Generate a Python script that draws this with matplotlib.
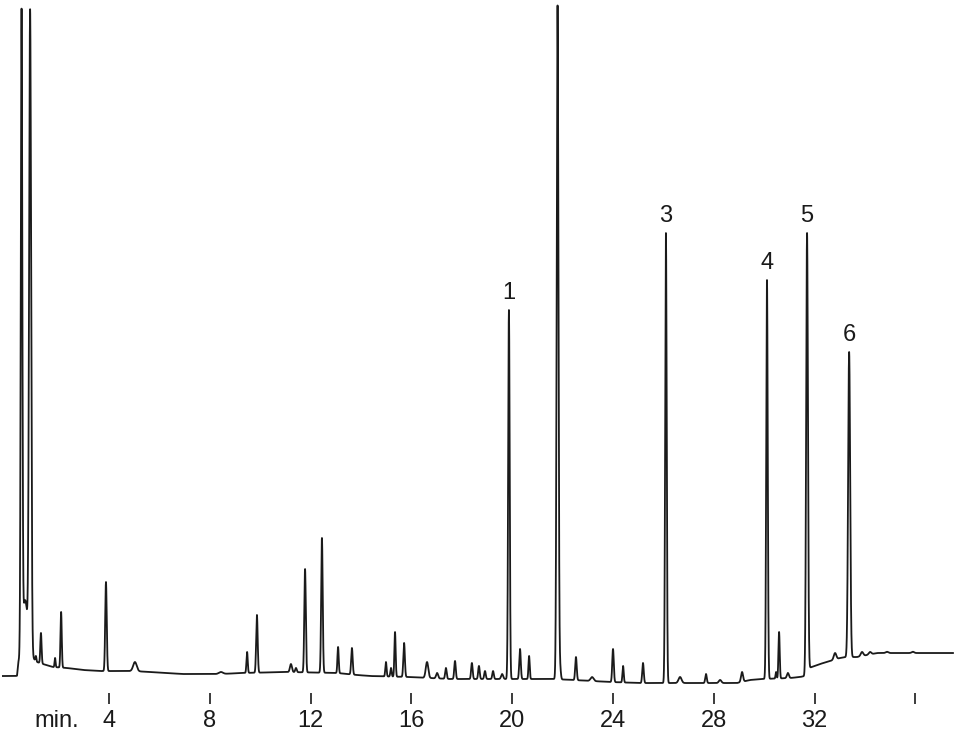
import numpy as np
import matplotlib

matplotlib.use('Agg')
import matplotlib.pyplot as plt

plt.rcParams['font.family'] = ['Liberation Sans Narrow', 'Liberation Sans', 'DejaVu Sans']

# Baseline drift of the detector signal (time in min, signal in arbitrary units)
base_t = [-0.21, 0.35, 0.41, 0.94, 1.14, 1.38, 1.78, 2.33, 2.97, 3.64, 4.95,
          6.30, 6.90, 8.40, 9.32, 11.06, 13.05, 13.84, 14.36, 15.87, 17.53,
          21.62, 22.41, 23.88, 25.07, 28.92, 29.44, 29.95, 31.02, 31.42,
          31.62, 31.78, 32.21, 32.62, 33.01, 33.25, 33.68, 34.48, 37.49]
base_s = [2.45, 2.45, 4.33, 5.19, 4.47, 4.18, 3.75, 3.61, 3.32, 3.17, 3.17,
          2.89, 2.74, 2.74, 2.89, 3.03, 2.89, 2.60, 2.45, 2.31, 2.02,
          2.02, 1.88, 1.59, 1.44, 1.44, 1.88, 2.02, 2.16, 2.31,
          2.45, 3.61, 4.18, 4.62, 5.05, 5.19, 5.19, 5.77, 5.77]

# Peak table: retention time (min), apex signal, peak width (sigma, min)
peak_rt = [0.53, 0.67, 0.87, 1.10, 1.30, 1.86, 2.10, 3.88, 5.03, 8.44,
           9.48, 9.87, 11.22, 11.42, 11.78, 12.45, 13.09, 13.64, 14.99, 15.19,
           15.35, 15.71, 16.62, 17.02, 17.37, 17.73, 18.40, 18.68, 18.92, 19.24,
           19.60, 19.87, 20.31, 20.67, 21.80, 21.90, 22.53, 23.17, 24.00,
           24.40, 25.19, 26.10, 26.66, 27.69, 28.25, 29.12, 30.11, 30.47, 30.59,
           30.94, 31.70, 32.81, 33.37, 33.88, 34.20, 34.87, 35.90]
peak_apex = [95.5, 13.4, 97.5, 5.34, 8.66, 5.05, 11.69, 16.02, 4.47, 3.03,
             5.92, 11.26, 4.18, 3.61, 17.89, 22.37, 6.64, 6.49, 4.47, 3.61,
             8.80, 7.22, 4.47, 2.89, 3.61, 4.62, 4.33, 3.90, 3.17, 3.17,
             2.74, 55.27, 6.35, 5.34, 99.2, 3.61, 5.19, 2.30, 6.35,
             3.90, 4.33, 66.38, 2.31, 2.74, 1.88, 3.03, 59.60, 3.03, 8.80,
             2.89, 66.38, 5.77, 49.21, 5.92, 5.92, 5.95, 5.95]
peak_sd = [0.03, 0.10, 0.04, 0.02, 0.025, 0.02, 0.025, 0.03, 0.07, 0.08,
           0.025, 0.03, 0.04, 0.03, 0.03, 0.03, 0.025, 0.03, 0.025, 0.025,
           0.025, 0.03, 0.05, 0.04, 0.03, 0.03, 0.03, 0.03, 0.03, 0.03,
           0.04, 0.03, 0.03, 0.025, 0.035, 0.03, 0.03, 0.06, 0.03,
           0.025, 0.03, 0.03, 0.06, 0.03, 0.05, 0.04, 0.03, 0.02, 0.025,
           0.04, 0.035, 0.05, 0.04, 0.05, 0.05, 0.05, 0.05]

# Labelled compounds
label_names = ['1', '3', '4', '5', '6']
label_rt = [19.87, 26.10, 30.11, 31.70, 33.37]
label_s = [55.27, 66.38, 59.60, 66.38, 49.21]

tick_pos = [4, 8, 12, 16, 20, 24, 28, 32, 36]
tick_lab = ['4', '8', '12', '16', '20', '24', '28', '32', '']

# build the trace from the peak table
t = np.linspace(base_t[0], base_t[-1], 30000)
signal = np.interp(t, base_t, base_s)
for rt, apex, sd in zip(peak_rt, peak_apex, peak_sd):
    amp = apex - np.interp(rt, base_t, base_s)
    signal += amp * np.exp(-0.5 * ((t - rt) / sd) ** 2)

fig = plt.figure(figsize=(9.58, 7.37), dpi=100)
ax = fig.add_axes([0, (737 - 693) / 737, 1, 693 / 737])
ax.plot(t, signal, color='#1a1a1a', lw=1.3)

for name, rt, s in zip(label_names, label_rt, label_s):
    ax.annotate(name, (rt, s), xytext=(0, 4), textcoords='offset points',
                ha='center', va='bottom', fontsize=17, color='#1a1a1a')

ax.set_xlim(-0.325, 37.69)
ax.set_ylim(0, 100)
for sp in ax.spines.values():
    sp.set_visible(False)
ax.set_yticks([])
ax.set_xticks(tick_pos)
ax.set_xticklabels(tick_lab, fontsize=17, color='#1a1a1a')
ax.tick_params(axis='x', direction='out', length=8, width=1.2, pad=4,
               color='#1a1a1a')
ax.annotate('min.', (1.94, 0), xycoords=ax.get_xaxis_transform(),
            xytext=(0, -12), textcoords='offset points', fontsize=17,
            ha='center', va='top', color='#1a1a1a')

fig.savefig('out.png', dpi=100)
